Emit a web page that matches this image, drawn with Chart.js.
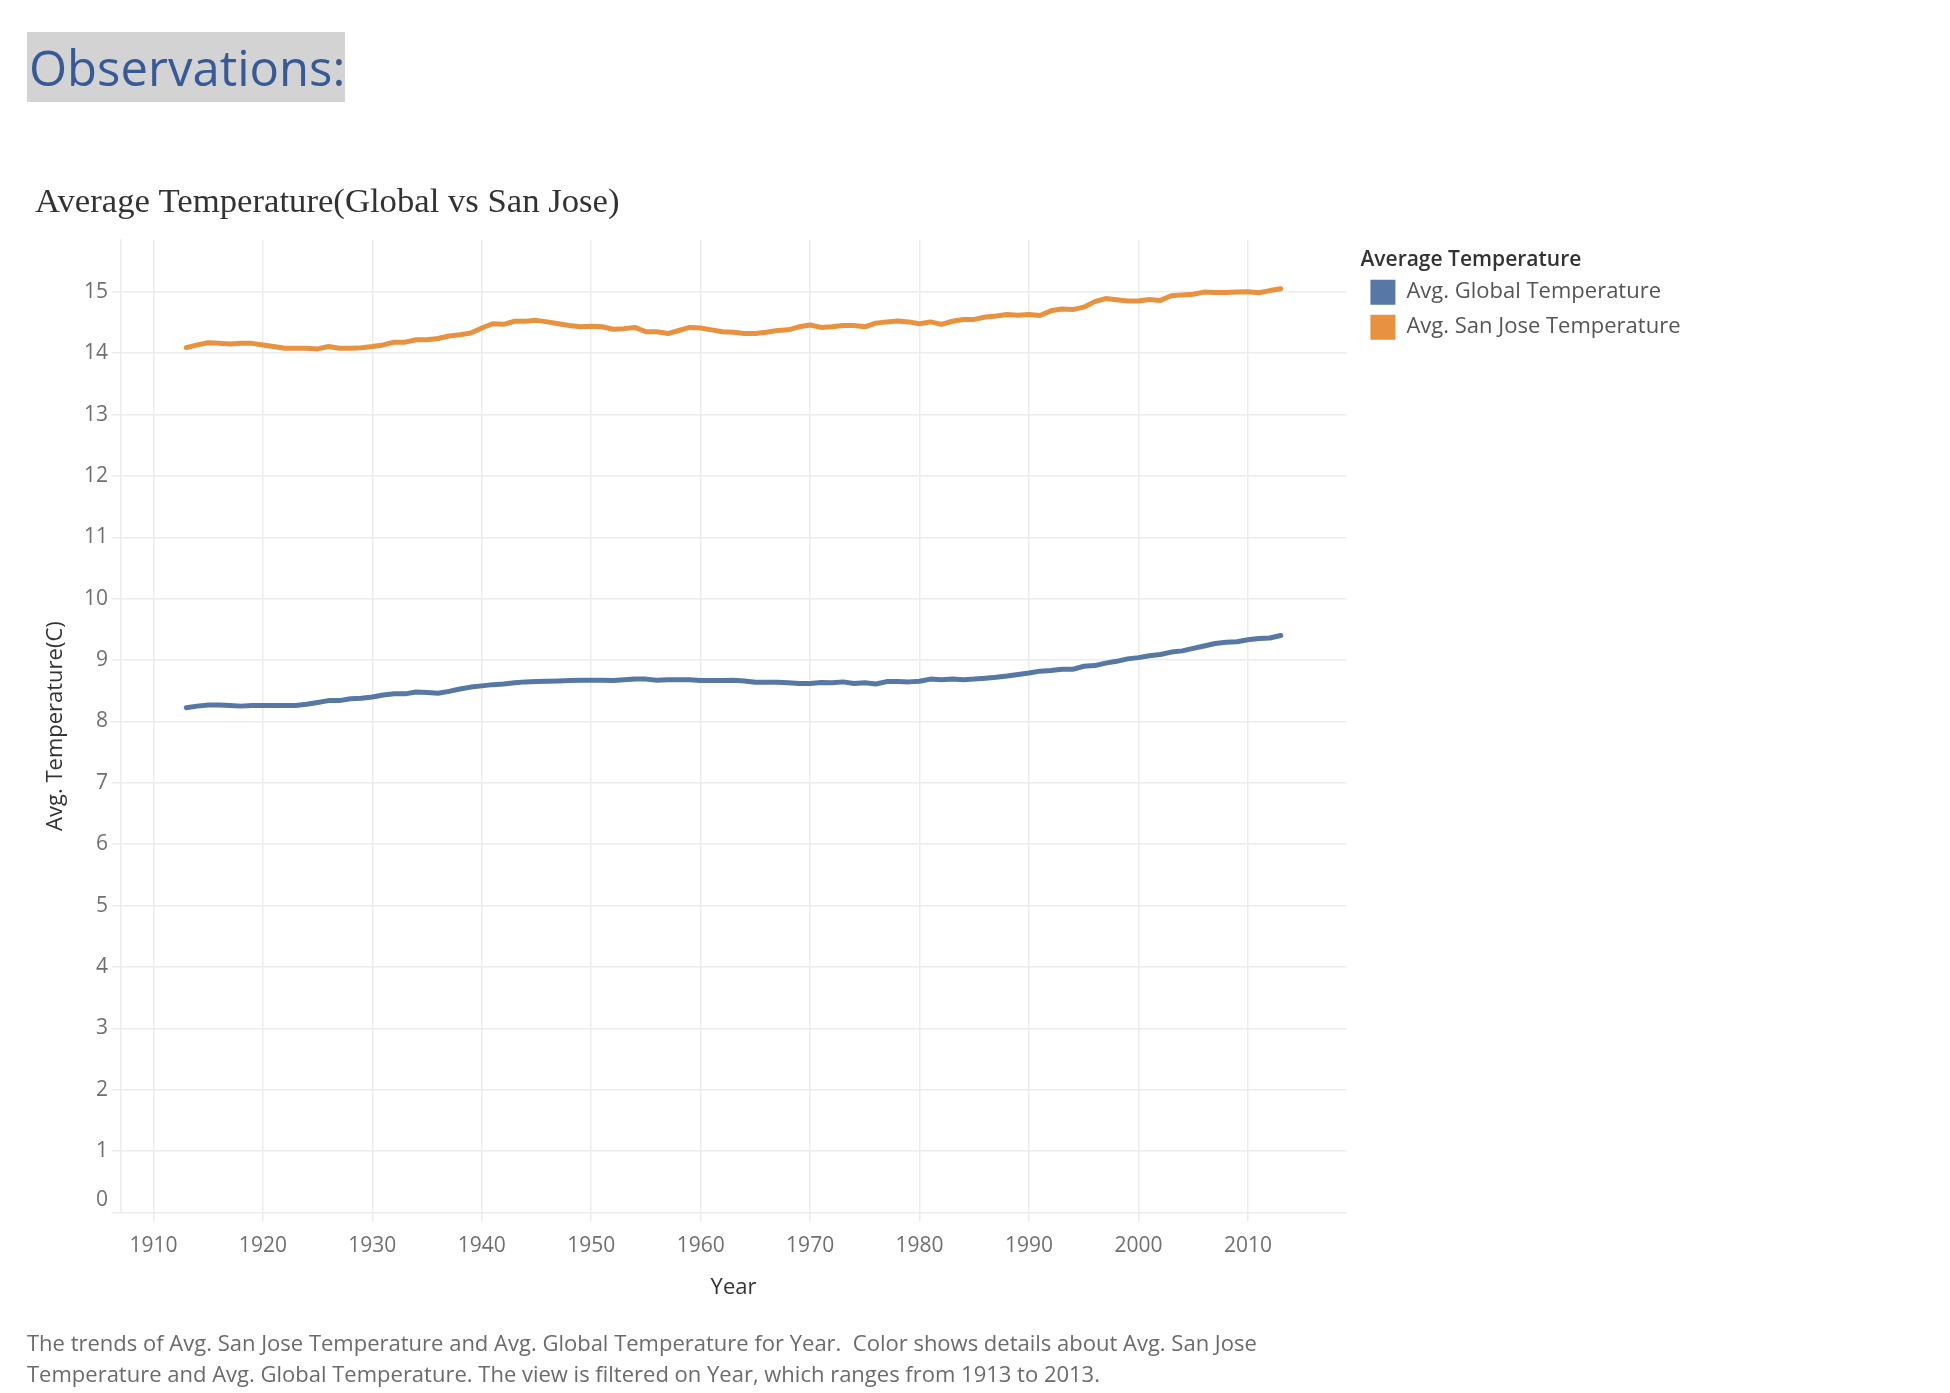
<!DOCTYPE html>
<html><head><meta charset="utf-8">
<script src="https://cdn.jsdelivr.net/npm/chart.js@4.4.1/dist/chart.umd.min.js"></script>
<style>
html,body{margin:0;padding:0;background:#fff;width:1950px;height:1393px;overflow:hidden;}
#obs{position:absolute;left:27px;top:32px;width:318px;height:70px;background:#d3d3d3;}
#obs span{position:absolute;left:2px;top:0;font-family:'Open Sans';font-size:49px;color:#375a96;line-height:70px;white-space:nowrap}
#cap{position:absolute;left:27px;top:1327px;font-family:'Open Sans';font-size:22px;line-height:31px;color:#6b6b6b;white-space:nowrap}
canvas{position:absolute;left:0;top:0}
</style></head>
<body>
<div id="obs"><span>Observations:</span></div>
<canvas id="c" width="1950" height="1393"></canvas>
<div id="cap">The trends of Avg. San Jose Temperature and Avg. Global Temperature for Year.&nbsp; Color shows details about Avg. San Jose<br>Temperature and Avg. Global Temperature. The view is filtered on Year, which ranges from 1913 to 2013.</div>
<script>
const years = [
  1913,1914,1915,1916,1917,1918,1919,
  1920,1921,1922,1923,1924,1925,1926,1927,1928,1929,
  1930,1931,1932,1933,1934,1935,1936,1937,1938,1939,
  1940,1941,1942,1943,1944,1945,1946,1947,1948,1949,
  1950,1951,1952,1953,1954,1955,1956,1957,1958,1959,
  1960,1961,1962,1963,1964,1965,1966,1967,1968,1969,
  1970,1971,1972,1973,1974,1975,1976,1977,1978,1979,
  1980,1981,1982,1983,1984,1985,1986,1987,1988,1989,
  1990,1991,1992,1993,1994,1995,1996,1997,1998,1999,
  2000,2001,2002,2003,2004,2005,2006,2007,2008,2009,
  2010,2011,2012,2013
];
const globalTemp = [
  8.224,8.25,8.27,8.27,8.26,8.25,8.26,
  8.26,8.26,8.26,8.26,8.28,8.31,8.34,8.34,8.37,8.38,
  8.40,8.43,8.45,8.45,8.48,8.47,8.46,8.49,8.53,8.56,
  8.58,8.60,8.61,8.63,8.645,8.65,8.656,8.66,8.667,8.67,
  8.67,8.67,8.667,8.68,8.69,8.69,8.67,8.68,8.68,8.68,
  8.667,8.667,8.667,8.67,8.66,8.64,8.64,8.64,8.63,8.62,
  8.62,8.634,8.63,8.645,8.62,8.63,8.61,8.65,8.65,8.645,
  8.656,8.69,8.68,8.69,8.68,8.69,8.705,8.72,8.74,8.765,
  8.79,8.82,8.83,8.85,8.85,8.90,8.91,8.95,8.98,9.02,
  9.04,9.07,9.09,9.13,9.15,9.19,9.23,9.27,9.29,9.30,
  9.33,9.35,9.36,9.40
];
const sanJoseTemp = [
  14.09,14.135,14.17,14.16,14.15,14.16,14.16,
  14.135,14.11,14.08,14.08,14.08,14.07,14.11,14.08,14.08,14.09,
  14.11,14.135,14.18,14.18,14.22,14.22,14.24,14.28,14.30,14.33,
  14.41,14.48,14.47,14.52,14.52,14.535,14.51,14.48,14.45,14.43,
  14.44,14.43,14.39,14.40,14.42,14.35,14.35,14.32,14.37,14.42,
  14.41,14.38,14.35,14.34,14.32,14.32,14.34,14.37,14.38,14.43,
  14.46,14.42,14.43,14.45,14.45,14.43,14.49,14.51,14.525,14.51,
  14.48,14.51,14.47,14.52,14.55,14.55,14.59,14.605,14.63,14.62,
  14.63,14.615,14.69,14.72,14.71,14.75,14.84,14.89,14.87,14.85,
  14.85,14.875,14.86,14.935,14.95,14.96,14.995,14.99,14.99,14.995,
  15.0,14.985,15.02,15.05
];
const xTickValues = [1910,1920,1930,1940,1950,1960,1970,1980,1990,2000,2010];
const yTickValues = [0,1,2,3,4,5,6,7,8,9,10,11,12,13,14,15];
const seriesNames = ['Avg. Global Temperature','Avg. San Jose Temperature'];
const seriesColors = ['#5778a5','#e8923f'];

const GRID = '#ececec';
const ctx = document.getElementById('c').getContext('2d');
function ds(label, vals, color){
  return {label, data: years.map((yr,i)=>({x:yr,y:vals[i]})), borderColor:color, backgroundColor:color,
    borderWidth:5, pointRadius:0, tension:0, borderJoinStyle:'round', borderCapStyle:'round'};
}
const legendShift = {id:'legendShift', afterLayout(chart){
  const l = chart.legend; if (l) { l.left += 14; l.right += 14; }
}};
new Chart(ctx, {
  type:'line',
  data:{datasets:[ds(seriesNames[0],globalTemp,seriesColors[0]), ds(seriesNames[1],sanJoseTemp,seriesColors[1])]},
  plugins:[legendShift],
  options:{
    responsive:false, animation:false, devicePixelRatio:1,
    layout:{padding:{left:35,top:0,right:273.5,bottom:92.5}},
    plugins:{
      title:{display:true,text:'Average Temperature(Global vs San Jose)',align:'start',color:'#333',
        font:{family:'Liberation Serif',size:34.7,weight:'normal',lineHeight:1.2},padding:{top:182,bottom:16}},
      legend:{display:true,position:'right',align:'start',fullSize:false,
        title:{display:true,text:'Average Temperature',color:'#333',position:'start',
          font:{family:'Open Sans',size:21,weight:'600',lineHeight:1},padding:{top:10,bottom:-1}},
        labels:{boxWidth:25,boxHeight:25,padding:10,color:'#555',font:{family:'Open Sans',size:22},
          generateLabels:(chart)=>Chart.defaults.plugins.legend.labels.generateLabels(chart).map(l=>Object.assign(l,{lineWidth:0,strokeStyle:'rgba(0,0,0,0)'}))}},
      tooltip:{enabled:false}
    },
    scales:{
      x:{type:'linear',min:1907,max:2019,
        afterBuildTicks:s=>{s.ticks=xTickValues.map(v=>({value:v}));},
        afterFit:s=>{s.height=88;},
        grid:{color:GRID,lineWidth:1.5,tickLength:9,tickColor:GRID},
        border:{display:false},
        ticks:{padding:12,color:'#707070',font:{family:'Open Sans',size:21},maxRotation:0,autoSkip:false,callback:v=>String(v)},
        title:{display:true,text:'Year',color:'#333',font:{family:'Open Sans',size:22},padding:{top:0,bottom:0}}},
      y:{type:'linear',min:0,max:15.85,
        afterBuildTicks:s=>{s.ticks=yTickValues.map(v=>({value:v}));},
        afterFit:s=>{s.width=85.6;},
        grid:{color:GRID,lineWidth:1.5,tickLength:9,tickColor:GRID},
        border:{display:true,color:GRID,width:1.5},
        ticks:{padding:3.5,color:'#707070',font:{family:'Open Sans',size:21},callback:v=>v===0?['0','']:String(v)},
        title:{display:true,text:'Avg. Temperature(C)',color:'#333',font:{family:'Open Sans',size:22},padding:{top:8,bottom:0}}}
    }
  }
});
</script>
</body></html>
